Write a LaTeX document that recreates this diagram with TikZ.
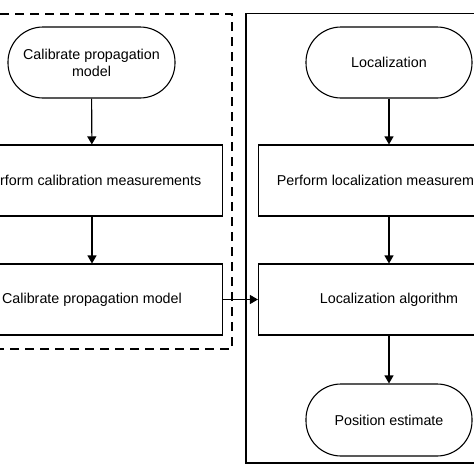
\documentclass[tikz,border=0pt]{standalone}
\usepackage{fontspec}
\setmainfont{Liberation Sans}
\usetikzlibrary{arrows.meta}
\begin{document}
\begin{tikzpicture}[x=1pt,y=-1pt,
  every node/.style={font=\fontsize{14.3}{17}\selectfont},
  base/.style={draw=black, line width=1.1pt, inner sep=0pt, align=center},
  term/.style={base, rounded corners=35pt, minimum width=167pt, minimum height=71pt},
  proc/.style={base, minimum width=261pt, minimum height=71pt},
  conn/.style={line width=1.1pt, -{Triangle[length=8pt,width=9pt]}},
  group/.style={line width=1.1pt}
]
\useasboundingbox (0,0) rectangle (474,474);
\clip (0,0) rectangle (474,474);
% group frames
\draw[group, dash pattern=on 9pt off 6pt] (-60,14) rectangle (232,349);
\draw[group] (246,13.5) rectangle (540,463);
% left column
\node[term] (t1) at (91.5,62.5) {Calibrate propagation\\model};
\node[proc] (r1) at (92,180.5) {Perform calibration measurements};
\node[proc] (r2) at (92,299.5) {Calibrate propagation model};
% right column
\node[term, minimum width=166pt] (t2) at (389,62.5) {Localization};
\node[proc] (r3) at (389,180.5) {Perform localization measurements};
\node[proc] (r4) at (389,299.5) {Localization algorithm};
\node[term, minimum width=166pt, minimum height=72pt] (t3) at (389,420) {Position estimate};
% connectors
\draw[conn] (t1) -- (r1);
\draw[conn] (r1) -- (r2);
\draw[conn] (t2) -- (r3);
\draw[conn] (r3) -- (r4);
\draw[conn] (r4) -- (t3);
\draw[conn] (r2) -- (r4);
\end{tikzpicture}
\end{document}
